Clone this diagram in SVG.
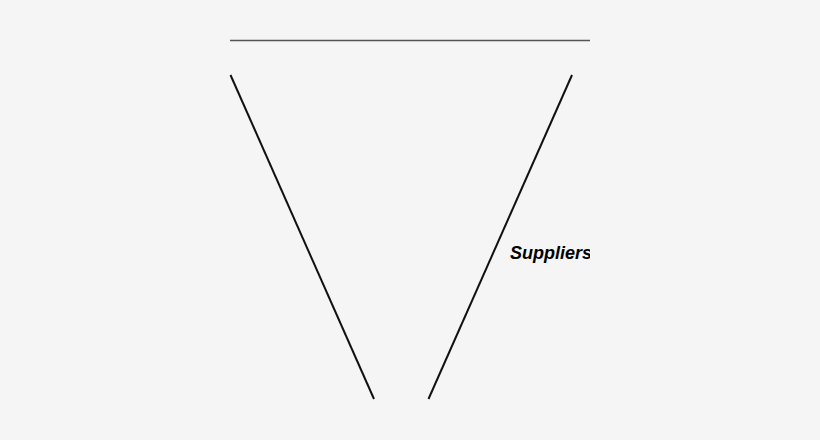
<svg xmlns="http://www.w3.org/2000/svg" width="820" height="440" viewBox="0 0 820 440">
<style>
.edge{stroke:#111;stroke-width:2;fill:none}
.rule{stroke:#555;stroke-width:1.3;fill:none}
.lbl{font-family:"Liberation Sans",Arial,sans-serif;font-size:18px;font-weight:bold;font-style:italic;fill:#000}
</style>
<defs>
<clipPath id="clip"><rect x="0" y="0" width="590" height="440"/></clipPath>
</defs>
<rect width="820" height="440" fill="#f5f5f5"/>
<g id="connectors">
<line class="rule" x1="230" y1="40.5" x2="590" y2="40.5"/>
<line class="edge" x1="230.5" y1="75" x2="374" y2="399"/>
<line class="edge" x1="572" y1="75" x2="428.5" y2="399"/>
</g>
<g id="suppliers" clip-path="url(#clip)">
<text class="lbl" x="510" y="259">Suppliers</text>
</g>
</svg>
